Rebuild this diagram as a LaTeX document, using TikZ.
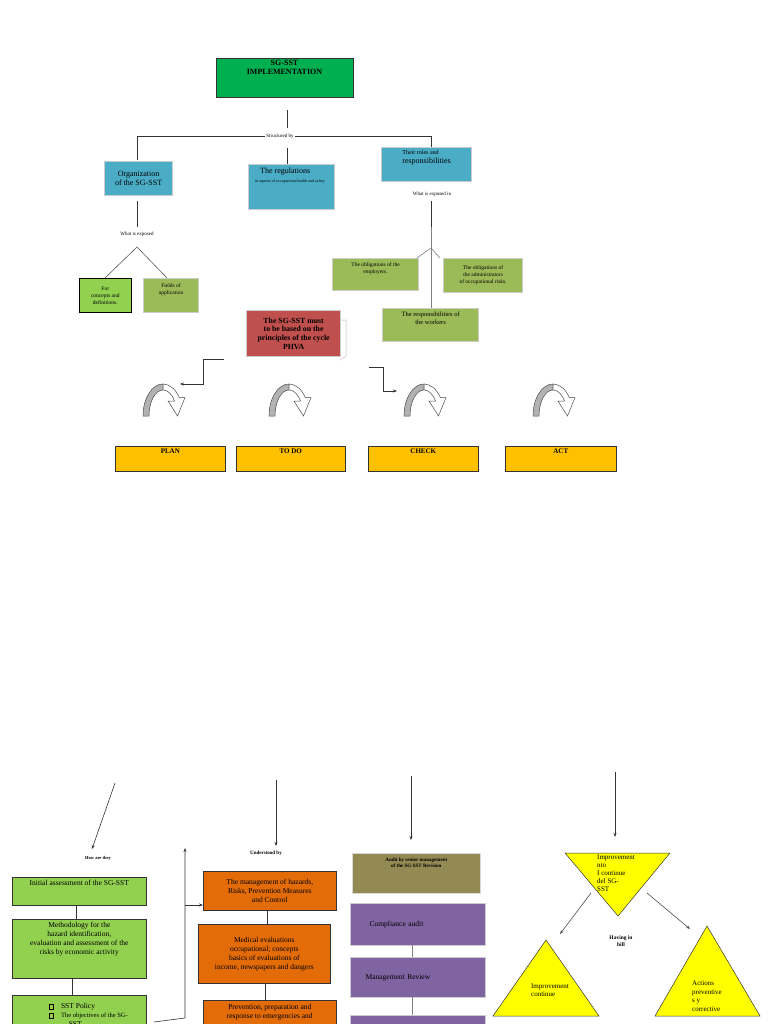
\documentclass[tikz,border=0pt]{standalone}
\usepackage{fontspec}
\setmainfont{Liberation Serif}
\usetikzlibrary{arrows.meta}
\definecolor{tgreen}{HTML}{00B050}
\definecolor{tblue}{HTML}{4BACC6}
\definecolor{lgreen}{HTML}{92D050}
\definecolor{ogreen}{HTML}{9BBB59}
\definecolor{tred}{HTML}{C0504D}
\definecolor{tgold}{HTML}{FFC000}
\definecolor{torange}{HTML}{E36C09}
\definecolor{tolive}{HTML}{938953}
\definecolor{tpurple}{HTML}{8064A2}
\definecolor{tyellow}{HTML}{FFFF00}
\newcommand{\mysq}{\setlength{\fboxsep}{0pt}\setlength{\fboxrule}{0.4pt}\fbox{\rule{0pt}{5pt}\hspace{4pt}}}
\tikzset{
 bx/.style={draw=black!80,line width=0.6pt,anchor=north west,inner sep=2pt,align=center,font=\fontsize{7}{8}\selectfont},
 sbx/.style={bx,draw=gray!40,line width=1.2pt},
 lbl/.style={font=\fontsize{5}{6}\selectfont,inner sep=1pt},
 ln/.style={line width=0.6pt,black!80},
 ar/.style={ln,-{Stealth[length=4pt]}},
 cyc/.pic={
  \begin{scope}[yscale=-1,line width=0.5pt]
   \filldraw[fill=gray!60,draw=black!70] (-20,0) arc[start angle=180,end angle=90,x radius=20,y radius=32] -- (0,26) arc[start angle=90,end angle=180,x radius=14,y radius=26] -- cycle;
   \filldraw[fill=white,draw=black!70] (0,32) arc[start angle=90,end angle=35,x radius=20,y radius=32] -- (22,18.4) -- (14.5,0) -- (5,15) -- (11.5,15) arc[start angle=35,end angle=90,x radius=14,y radius=26] -- cycle;
  \end{scope}}
}
\begin{document}
\begin{tikzpicture}[x=1pt,y=-1pt]
\useasboundingbox (0,0) rectangle (768,1024);
% top
\node[bx,fill=tgreen,minimum width=137pt,minimum height=39pt,font=\bfseries\fontsize{8}{8.5}\selectfont,anchor=north] (t) at (284.5,58) {SG-SST\\IMPLEMENTATION\\[12pt]};
\node[lbl] (sb) at (280,136) {Structured by};
\coordinate (t1) at (287,110);
\coordinate (hL) at (137,136); \coordinate (hR) at (431,136);
\draw[ln] (t1) -- (287,128);
\draw[ln] (137,160) -- (hL) -- (sb.west);
\draw[ln] (sb.east) -- (hR) -- (431,147);
\draw[ln] (287,148) -- (287,164);
\node[sbx,fill=tblue,minimum width=68pt,minimum height=34pt,font=\fontsize{8}{9}\selectfont] (org) at (104,161) {Organization\\ of the SG-SST};
\node[sbx,fill=tblue,minimum width=86pt,minimum height=45pt] (reg) at (248,164) {};
\node[anchor=north west,inner sep=0pt,font=\fontsize{8}{9}\selectfont] at (260,168) {The regulations};
\node[anchor=north west,inner sep=0pt,font=\fontsize{4}{5}\selectfont] at (255,179) {in aspects of occupational health and safety};
\node[sbx,fill=tblue,minimum width=90pt,minimum height=34pt,align=left,font=\fontsize{8}{9}\selectfont] (rol) at (381,147) {{\fontsize{6}{7}\selectfont Their roles and}\\responsibilities\\[6pt]};
\node[lbl] (we) at (137,234) {What is exposed};
\draw[ln] (137,201) -- (137,227);
\coordinate (v1) at (137,247);
\draw[ln,black!65] (105,278) -- (v1) -- (167,278);
\node[bx,fill=lgreen,draw=black,minimum width=52pt,minimum height=34pt,font=\fontsize{5.5}{7}\selectfont] (for) at (79,278) {For\\concepts and\\definitions.};
\node[sbx,fill=ogreen,minimum width=55pt,minimum height=34pt,font=\fontsize{5.5}{7}\selectfont] (fie) at (143,278) {Fields of\\application\\[6pt]};
\node[lbl] (wi) at (432,194) {What is exposed in};
\draw[ln] (431,201) -- (431,227);
\draw[ln,gray] (431,227) -- (431,308);
\draw[ln,gray] (417,258) -- (431,248) -- (440,258);
\node[sbx,fill=ogreen,minimum width=86pt,minimum height=32pt,font=\fontsize{5.5}{7}\selectfont] (emp) at (332,258) {The obligations of the\\employers.\\[6pt]};
\node[sbx,fill=ogreen,minimum width=79pt,minimum height=34pt,font=\fontsize{5.5}{7}\selectfont] (adm) at (443,258) {The obligations of\\the administrators\\of occupational risks.};
\node[sbx,fill=ogreen,minimum width=96pt,minimum height=33pt,font=\fontsize{6.5}{8}\selectfont] (wor) at (382,308) {The responsibilities of\\the workers\\[6pt]};
\node[sbx,fill=tred,minimum width=94pt,minimum height=46pt,font=\bfseries\fontsize{7.8}{8.8}\selectfont] (red) at (246,310) {The SG-SST must\\to be based on the\\principles of the cycle\\PHVA};
\draw[gray!30,line width=1pt] (340,320) -- (346,320) -- (346,356) -- (340,360);
% cycle
\coordinate (c1) at (224,359); \coordinate (c2) at (369,367);
\draw[ar] (c1) -- (203,359) -- (203,384) -- (180,384);
\draw[ar] (c2) -- (383,367) -- (383,391) -- (397,391);
\foreach \cx in {163,289,424,553} \pic at (\cx,416) {cyc};
\tikzset{gb/.style={bx,fill=tgold,minimum width=110pt,minimum height=25pt,font=\bfseries\fontsize{7}{8}\selectfont}}
\node[gb] (pl) at (115,446) {PLAN\\[7pt]};
\node[gb,minimum width=109pt] (do) at (236,446) {TO DO\\[7pt]};
\node[gb] (ch) at (368,446) {CHECK\\[7pt]};
\node[gb,minimum width=111pt] (ac) at (505,446) {ACT\\[7pt]};
% bottom
\coordinate (a1) at (115,783); \coordinate (a2) at (276,780); \coordinate (a3) at (411,776); \coordinate (a4) at (615,772);
\draw[ar] (a1) -- (92,849);
\draw[ar] (a2) -- (276,846);
\draw[ar] (a3) -- (411,840);
\draw[ar] (a4) -- (615,837);
\node[lbl,font=\bfseries\fontsize{4.5}{5}\selectfont] (how) at (98,858) {How are they};
\node[lbl,font=\bfseries\fontsize{5}{6}\selectfont] (und) at (266,853) {Understood by};
\tikzset{gr/.style={bx,fill=lgreen,minimum width=134pt,font=\fontsize{7.5}{9}\selectfont}}
\node[gr,minimum height=28pt] (g1) at (12,877) {Initial assessment of the SG-SST\\[8pt]};
\node[gr,minimum height=59pt] (g2) at (12,919) {Methodology for the\\hazard identification,\\ evaluation and assessment of the\\risks by economic activity\\[12pt]};
\node[gr,minimum height=40pt,align=left] (g3) at (12,995) {\hspace*{18pt}\mysq\quad SST Policy\\ \hspace*{18pt}\mysq\quad {\fontsize{6.5}{8}\selectfont The objectives of the SG-}\\ \hspace*{38pt}SST};
\draw[ln] (g1.south) ++(-3,0) -- ++(0,14);
\draw[ln] (g2.south) ++(-7,0) -- ++(0,17);
\coordinate (lb) at (154,1022);
\draw[ar] (lb) -- (185,1018) -- (185,848);
\tikzset{or/.style={bx,fill=torange,minimum width=133pt,font=\fontsize{7.5}{9}\selectfont}}
\node[or,minimum height=39pt] (o1) at (203,871) {The management of hazards,\\Risks, Prevention Measures\\and Control};
\draw[ar] (185,905) -- (o1.west |- 0,905);
\node[or,minimum width=132pt,minimum height=59pt] (o2) at (198,924) {Medical evaluations\\occupational; concepts\\basics of evaluations of\\income, newspapers and dangers};
\node[or,minimum height=40pt] (o3) at (203,1000) {Prevention, preparation and\\response to emergencies and\\ \\};
\draw[ln] (o1.south) ++(-3,0) -- ++(0,14);
\draw[ln] (o2.south) ++(1,0) -- ++(0,17);
\node[bx,fill=tolive,draw=gray!30,minimum width=128pt,minimum height=40pt,font=\bfseries\fontsize{5}{6}\selectfont] (ol) at (352,853) {Audit by senior management\\of the SG-SST Revision\\[16pt]};
\tikzset{pu/.style={sbx,fill=tpurple,minimum width=135pt,font=\fontsize{7.5}{9}\selectfont,align=left,text width=125pt}}
\node[pu,minimum height=42pt] (p1) at (350,903) {\hspace*{14pt}Compliance audit\\[18pt]};
\node[pu,minimum height=40pt] (p2) at (350,957) {\hspace*{10pt}Management Review\\[18pt]};
\node[pu,minimum height=30pt] (p3) at (350,1015) {\hspace*{14pt}Incident investigation\\[18pt]};
\draw[ln,gray] (412,945) -- (412,957);
\draw[ln,gray] (412,997) -- (412,1015);
% triangles
\coordinate (ta) at (565,853); \coordinate (tb) at (670,853); \coordinate (tc) at (618,916);
\filldraw[fill=tyellow,draw=black!80,line width=0.5pt] (ta) -- (tb) -- (tc) -- cycle;
\node[anchor=north west,inner sep=0pt,align=left,font=\fontsize{7}{8}\selectfont] (tt) at (597,855) {Improvement\\nto\\I continue\\del SG-\\SST};
\filldraw[fill=tyellow,draw=black!80,line width=0.5pt] (493,1016) -- (546,940) -- (599,1016) -- cycle;
\filldraw[fill=tyellow,draw=black!80,line width=0.5pt] (655,1016) -- (707,926) -- (760,1016) -- cycle;
\node[align=left,inner sep=0pt,font=\fontsize{7}{8}\selectfont] (ic) at (550,990) {Improvement\\continue};
\node[align=left,inner sep=0pt,font=\fontsize{7}{8.5}\selectfont] (apc) at (707,996) {Actions\\preventive\\s y\\corrective};
\coordinate (s1) at (591,893); \coordinate (s2) at (647,893);
\draw[ar,black!70] (s1) -- (560,934);
\draw[ar,black!70] (s2) -- (690,929);
\node[align=center,inner sep=0pt,font=\bfseries\fontsize{5.5}{6.5}\selectfont] (hb) at (621,941) {Having in\\bill};
\end{tikzpicture}
\end{document}
